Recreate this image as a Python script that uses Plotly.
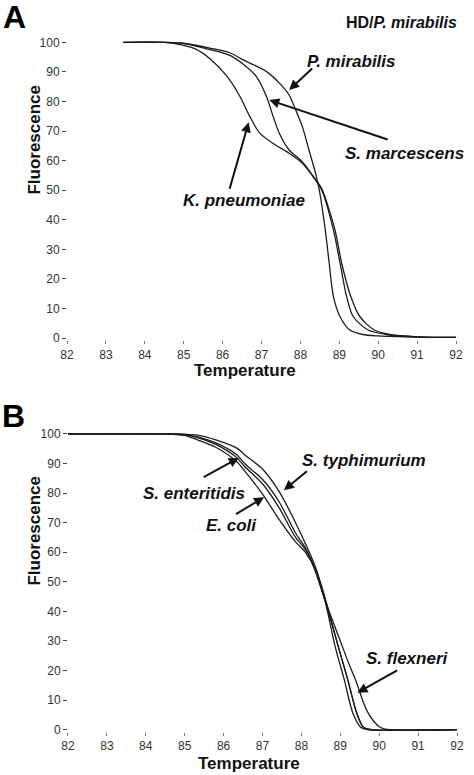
import plotly.graph_objects as go

# ---------------- Panel A data ----------------
a_kp_t = [83.45, 84.5, 85.0, 85.3, 85.69, 86.12, 86.45, 86.7, 86.96, 87.3, 87.71, 88.05, 88.39, 88.55,
          88.85, 89.02, 89.19, 89.36, 89.74, 90.2, 91.0, 92.0]
a_kp_f = [100, 100, 99.0, 97.8, 94.3, 88.4, 81.6, 74.9, 69.2, 65.8, 62.5, 59.1, 53.4, 50.0,
          36.5, 25.3, 13.9, 7.2, 2.7, 1.2, 0.4, 0.2]

a_sm_t = [83.45, 84.5, 85.0, 85.7, 86.2, 86.54, 86.87, 87.13, 87.3, 87.46, 87.71, 88.05, 88.39, 88.55,
          88.89, 89.06, 89.3, 89.53, 89.9, 90.3, 91.0, 92.0]
a_sm_f = [100, 100, 99.6, 97.5, 95.5, 92.5, 88.4, 81.6, 74.9, 69.2, 63.6, 59.6, 53.6, 50.5,
          36.5, 25.3, 13.9, 7.2, 2.7, 1.2, 0.4, 0.2]

a_pm_t = [83.45, 84.5, 85.0, 85.7, 86.2, 86.54, 87.13, 87.46, 87.71, 87.88, 88.05, 88.22, 88.39, 88.47,
          88.64, 88.74, 88.85, 89.02, 89.27, 89.6, 90.0, 91.0, 92.0]
a_pm_f = [100, 100, 99.7, 98.0, 96.4, 94.0, 90.1, 86.2, 82.2, 77.1, 71.5, 63.6, 55.7, 51.2,
          36.5, 25.3, 13.9, 7.2, 2.7, 1.2, 0.7, 0.3, 0.2]

# ---------------- Panel B data ----------------
b_st_t = [82.0, 84.5, 85.0, 85.33, 85.8, 86.34, 86.54, 87.01, 87.43, 87.85, 88.1, 88.36, 88.6,
          88.95, 89.19, 89.42, 89.6, 89.8, 92.0]
b_st_f = [100, 100, 99.9, 99.6, 98.0, 95.2, 93.0, 88.0, 80.5, 70.0, 63.0, 55.0, 45.0,
          28.0, 17.0, 5.7, 0.7, 0.0, 0.0]

b_sf_t = [82.0, 84.5, 85.0, 85.33, 85.8, 86.34, 86.54, 87.01, 87.43, 87.85, 88.1, 88.36, 88.6,
          89.0, 89.2, 89.4, 89.6, 89.7, 89.85, 90.0, 90.15, 90.3, 92.0]
b_sf_f = [100, 100, 99.8, 99.0, 97.0, 93.0, 90.0, 84.5, 77.0, 66.5, 61.5, 53.5, 44.0,
          30.0, 23.0, 16.5, 9.0, 6.0, 3.0, 1.0, 0.2, 0.0, 0.0]

b_se_t = [82.0, 84.5, 85.0, 85.33, 85.8, 86.34, 86.54, 87.01, 87.43, 87.85, 88.1, 88.36, 88.6,
          88.95, 89.19, 89.42, 89.6, 89.8, 92.0]
b_se_f = [100, 100, 99.7, 98.8, 96.5, 92.0, 89.0, 83.0, 75.0, 65.0, 61.0, 54.0, 44.0,
          28.0, 17.0, 5.7, 0.7, 0.0, 0.0]

b_ec_t = [82.0, 84.5, 85.0, 85.33, 85.8, 86.34, 86.54, 87.01, 87.43, 87.85, 88.1, 88.36, 88.6,
          88.87, 89.1, 89.32, 89.53, 89.7, 92.0]
b_ec_f = [100, 100, 99.5, 98.0, 95.5, 90.6, 87.5, 79.5, 71.0, 63.5, 60.0, 54.0, 44.0,
          28.0, 17.0, 5.7, 0.7, 0.0, 0.0]

x_ticks = [82, 83, 84, 85, 86, 87, 88, 89, 90, 91, 92]
y_ticks = [0, 10, 20, 30, 40, 50, 60, 70, 80, 90, 100]

FONT = "Arial, Liberation Sans, sans-serif"
LINE = dict(color="#1c1c1c", width=1.3, shape="spline", smoothing=0.8)

fig = go.Figure()
for t, f in [(a_kp_t, a_kp_f), (a_sm_t, a_sm_f), (a_pm_t, a_pm_f)]:
    fig.add_trace(go.Scatter(x=t, y=f, mode="lines", line=LINE, xaxis="x", yaxis="y",
                             showlegend=False, hoverinfo="skip"))
for t, f in [(b_st_t, b_st_f), (b_sf_t, b_sf_f), (b_se_t, b_se_f), (b_ec_t, b_ec_f)]:
    fig.add_trace(go.Scatter(x=t, y=f, mode="lines", line=LINE, xaxis="x2", yaxis="y2",
                             showlegend=False, hoverinfo="skip"))

W, H = 474, 775
ML, MR, MT, MB = 67, 10, 40, 43
PW, PH = W - ML - MR, H - MT - MB


def pxx(x):
    return (x - ML) / PW


def pxy(y):
    return (H - MB - y) / PH


xax = dict(range=[82, 92], tickvals=x_ticks, ticks="outside", ticklen=3, tickwidth=1,
           tickcolor="#777", showline=False, showgrid=False, zeroline=False,
           tickfont=dict(family=FONT, size=12, color="#333"))
yax = dict(range=[-0.8, 100.8], tickvals=y_ticks, ticks="outside", ticklen=4, tickwidth=1,
           tickcolor="#444", showline=False, showgrid=False, zeroline=False,
           tickfont=dict(family=FONT, size=12, color="#333"))

domA_bottom = (H - MB - 340.4) / PH
domB_top = (H - MB - 431.6) / PH

fig.update_layout(
    width=W, height=H,
    margin=dict(l=ML, r=MR, t=MT, b=MB),
    paper_bgcolor="white", plot_bgcolor="white",
    xaxis=dict(xax, domain=[0, 396 / PW], anchor="y"),
    yaxis=dict(yax, domain=[domA_bottom, 1], anchor="x"),
    xaxis2=dict(xax, domain=[1 / PW, 1], anchor="y2"),
    yaxis2=dict(yax, domain=[0, domB_top], anchor="x2"),
)

ann = []


def text(s, x, y, size, xanchor="center", angle=0, color="#111"):
    ann.append(dict(text=s, x=pxx(x), y=pxy(y), xref="paper", yref="paper",
                    xanchor=xanchor, yanchor="middle", showarrow=False, textangle=angle,
                    font=dict(family=FONT, size=size, color=color)))


text("<b>A</b>", 14, 17, 32, color="#000")
text("<b>B</b>", 13, 416, 32, color="#000")
text("<b>HD/<i>P. mirabilis</i></b>", 466, 22, 16, xanchor="right")
text("<b>Fluorescence</b>", 33, 140, 17, angle=-90)
text("<b>Fluorescence</b>", 33, 531, 17, angle=-90)
text("<b>Temperature</b>", 248, 370, 17)
text("<b>Temperature</b>", 252, 763, 17)

text("<b><i>P. mirabilis</i></b>", 357, 61, 17)
text("<b><i>S. marcescens</i></b>", 411, 153, 17)
text("<b><i>K. pneumoniae</i></b>", 247, 201, 17)
text("<b><i>S. typhimurium</i></b>", 369, 460, 17)
text("<b><i>S. enteritidis</i></b>", 196, 493, 17)
text("<b><i>E. coli</i></b>", 234, 525, 17)
text("<b><i>S. flexneri</i></b>", 414, 658, 17)


def arrow(hx, hy, tx, ty, xr, yr):
    ann.append(dict(text="", x=hx, y=hy, ax=tx, ay=ty, xref=xr, yref=yr, axref=xr, ayref=yr,
                    showarrow=True, arrowhead=2, arrowsize=1.0, arrowwidth=2, arrowcolor="#111"))


arrow(87.71, 83.9, 88.34, 91.6, "x", "y")
arrow(87.2, 80.5, 90.28, 67.0, "x", "y")
arrow(86.67, 73.0, 86.17, 50.0, "x", "y")
arrow(87.55, 81.0, 88.18, 87.8, "x2", "y2")
arrow(86.39, 91.9, 85.45, 85.1, "x2", "y2")
arrow(87.04, 78.6, 86.28, 72.6, "x2", "y2")
arrow(89.44, 12.5, 90.5, 20.3, "x2", "y2")

fig.update_layout(annotations=ann)
fig.write_html(
    "out.html",
    config={"displayModeBar": False},
    post_script="document.body.style.margin='0';document.body.style.padding='0';"
                "document.body.style.overflow='hidden';",
)
